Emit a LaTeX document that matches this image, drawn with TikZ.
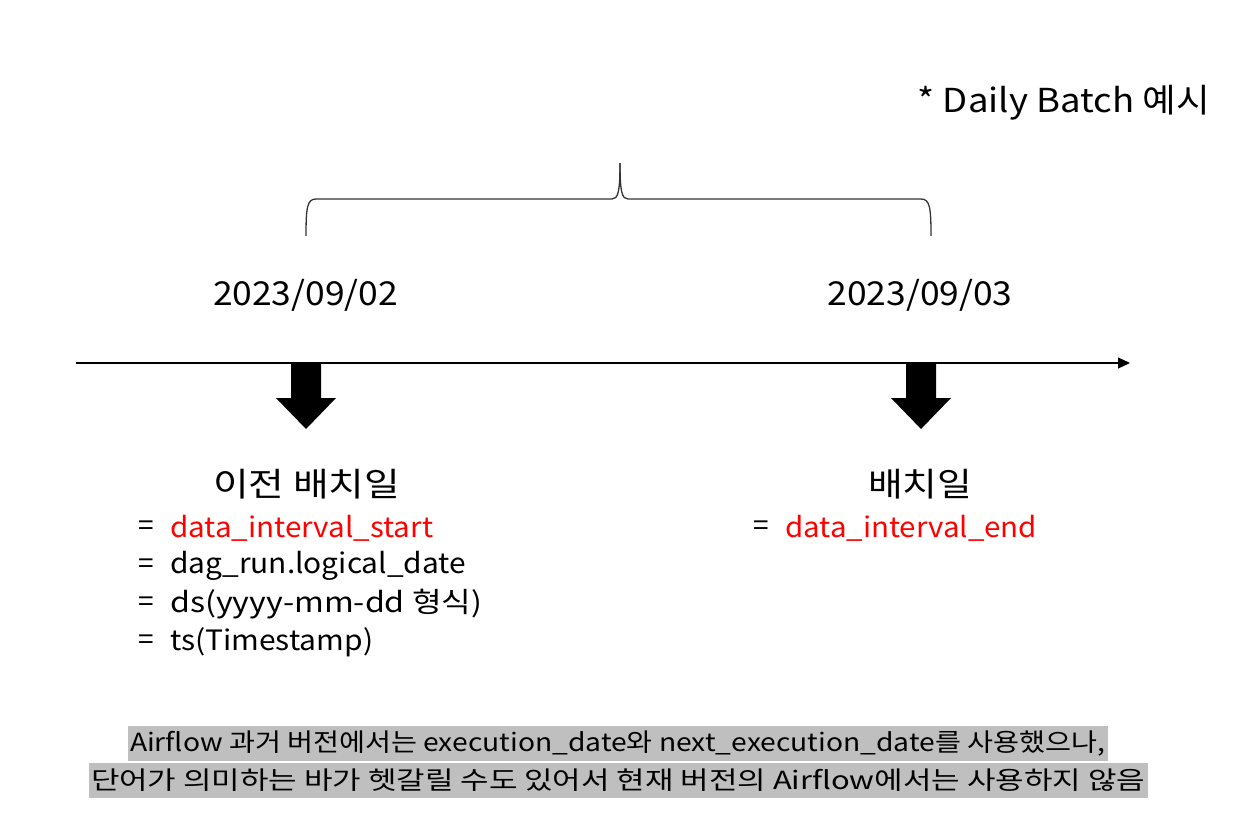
\documentclass[tikz,border=0pt]{standalone}
\usepackage{fontspec}
\usepackage{graphicx}
\setmainfont{Noto Sans CJK KR}
\usetikzlibrary{arrows.meta}
\definecolor{hlgray}{HTML}{BFBFBF}
\definecolor{redtxt}{HTML}{FF0000}
\newcommand{\fitw}[2]{\resizebox{#1}{\height}{#2}}
\begin{document}
\begin{tikzpicture}[x=1pt,y=-1pt,
  big/.style={font=\fontsize{33}{40}\selectfont, inner sep=0pt},
  body/.style={font=\fontsize{28}{34}\selectfont, inner sep=0pt, anchor=west},
  eqsign/.style={font=\fontsize{28}{34}\selectfont, inner sep=0pt, anchor=west},
  note/.style={font=\fontsize{25}{30}\selectfont, fill=hlgray, inner xsep=2.5pt, inner ysep=0pt, minimum height=35pt},
  bracepart/.style={draw=black!80, line width=1.3pt},
  blockarrow/.style={fill=black}]
\useasboundingbox (0,0) rectangle (1258,822);
% title
\node[big, anchor=east] (title) at (1210,103) {\fitw{292pt}{* Daily Batch 예시}};
% brace
\coordinate (bl) at (306,236);
\coordinate (br) at (931,236);
\coordinate (bt) at (620,163);
\draw[bracepart] (bl) .. controls (306,208) and (307,199) .. (316,199) -- (612,199)
  .. controls (618,199) and (620,192) .. (bt);
\draw[bracepart] (br) .. controls (931,208) and (930,199) .. (921,199) -- (628,199)
  .. controls (622,199) and (620,192) .. (bt);
% dates
\node[big] (d1) at (305.5,295) {\fitw{185pt}{2023/09/02}};
\node[big] (d2) at (920,295) {\fitw{185pt}{2023/09/03}};
% axis
\coordinate (axs) at (76,363);
\coordinate (axe) at (1130,363);
\draw[line width=1.2pt, -{Triangle[length=12pt,width=11pt]}] (axs) -- (axe);
% block arrows
\fill[blockarrow] (291,362) -- (321,362) -- (321,398) -- (336,398) -- (306,429) -- (276,398) -- (291,398) -- cycle;
\fill[blockarrow] (906,362) -- (936,362) -- (936,398) -- (951,398) -- (921,429) -- (891,398) -- (906,398) -- cycle;
% labels
\node[big] (prev) at (306.5,484) {\fitw{187pt}{이전 배치일}};
\node[big] (cur) at (920,484) {\fitw{104pt}{배치일}};
\node[eqsign] (e1) at (138,528) {=};
\node[eqsign] (e2) at (138,566) {=};
\node[eqsign] (e3) at (138,604) {=};
\node[eqsign] (e4) at (138,642) {=};
\node[eqsign] (e5) at (753,528) {=};
\node[body] (l1) at (170,528) {\fitw{263pt}{\textcolor{redtxt}{data\_interval\_start}}};
\node[body] (l2) at (170,566) {\fitw{296pt}{dag\_run.logical\_date}};
\node[body] (l3) at (170,604) {\fitw{312pt}{ds(yyyy-mm-dd 형식)}};
\node[body] (l4) at (170,642) {\fitw{203pt}{ts(Timestamp)}};
\node[body] (r1) at (785,528) {\fitw{252pt}{\textcolor{redtxt}{data\_interval\_end}}};
% note
\node[note] (n1) at (617.5,743.5) {\fitw{975pt}{Airflow 과거 버전에서는 execution\_date와 next\_execution\_date를 사용했으나,}};
\node[note] (n2) at (618,780) {\fitw{1054pt}{단어가 의미하는 바가 헷갈릴 수도 있어서 현재 버전의 Airflow에서는 사용하지 않음}};
\end{tikzpicture}
\end{document}
